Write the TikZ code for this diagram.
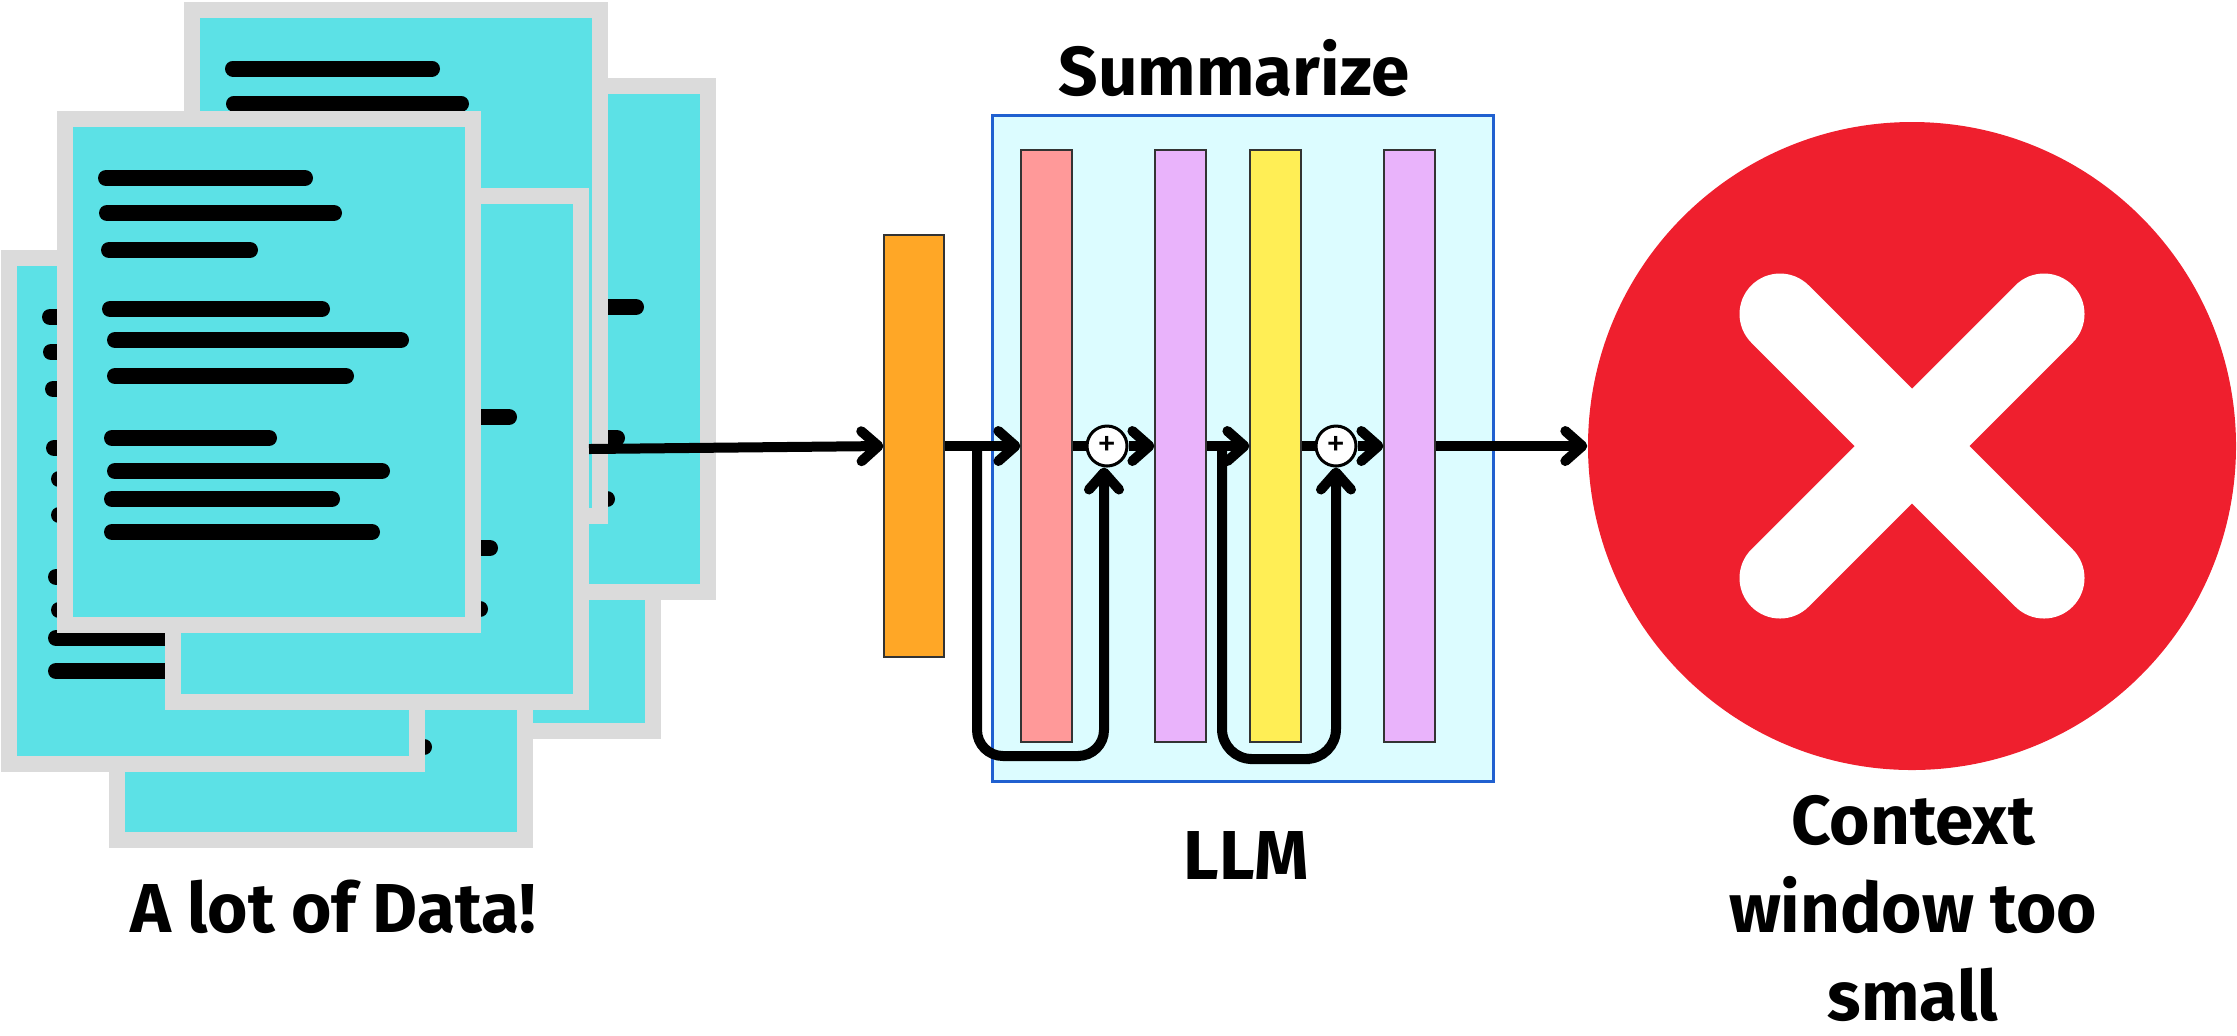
\documentclass[tikz,border=0pt]{standalone}
\usepackage{fontspec}
\setmainfont{Fira Sans}
\usetikzlibrary{arrows.meta}
\definecolor{pagecyan}{HTML}{5CE1E6}
\definecolor{pagegray}{HTML}{DBDBDB}
\definecolor{embcol}{HTML}{FFA726}
\definecolor{normcol}{HTML}{FF9999}
\definecolor{attcol}{HTML}{E9B3FB}
\definecolor{ffcol}{HTML}{FFEE55}
\definecolor{panelcol}{HTML}{DCFCFF}
\definecolor{panelline}{HTML}{2060D0}
\definecolor{stopcol}{HTML}{EF1F2E}
\tikzstyle{page}=[rectangle,draw=pagegray,fill=pagecyan,line width=0.16cm,inner sep=0,minimum width=4.08cm,minimum height=5.06cm]
\tikzstyle{textbar}=[line width=0.16cm,line cap=round]
\tikzstyle{box}=[rectangle,draw=black!80,line width=0.012cm,inner sep=0,minimum width=0.51cm,minimum height=5.92cm]
\tikzstyle{wire}=[line width=0.1cm,-{Straight Barb[round,length=0.17cm,width=0.3cm]}]
\tikzstyle{plainwire}=[line width=0.1cm]
\tikzstyle{add}=[circle,draw,fill=white,line width=0.03cm,inner sep=0,minimum size=0.4cm]
\tikzstyle{lbl}=[font=\bfseries\fontsize{19.7}{25}\selectfont,inner sep=0,align=center]

\begin{document}
\begin{tikzpicture}
\useasboundingbox (0,0) rectangle (22.37,-10.35);

% stack of pages, back to front
\foreach \n/\x/\y in {pageG/4.49/-4.78,pageB/5.04/-3.39,pageA/3.96/-2.625,pageF/3.21/-5.87,pageE/2.13/-5.11,pageD/3.77/-4.49,pageC/2.69/-3.72} {
  \node[page] (\n) at (\x,\y) {};
  \foreach \a/\b/\h in {-1.63/0.36/1.94,-1.62/0.65/1.59,-1.60/-0.19/1.22,-1.59/0.53/0.63,-1.54/1.32/0.32,-1.54/0.77/-0.04,-1.57/0.00/-0.66,-1.54/1.13/-0.99,-1.57/0.63/-1.27,-1.57/1.03/-1.60}
    \draw[textbar] ([shift={(\a,\h)}] \n.center) -- ([shift={(\b,\h)}] \n.center);
}
\node[lbl,anchor=base] (datalbl) at (3.33,-9.32) {A lot of Data!};

% model
\node[box,draw=panelline,fill=panelcol,line width=0.03cm,minimum width=5.01cm,minimum height=6.66cm] (llm) at (12.425,-4.48) {};
\node[lbl,anchor=base] (sumlbl) at (12.34,-0.95) {Summarize};
\node[lbl,anchor=base] (llmlbl) at (12.46,-8.79) {LLM};
\node[box,fill=embcol,minimum width=0.6cm,minimum height=4.22cm] (emb) at (9.14,-4.46) {};
\node[box,fill=normcol] (norm) at (10.465,-4.46) {};
\node[box,fill=attcol] (att1) at (11.805,-4.46) {};
\node[box,fill=ffcol] (ff) at (12.755,-4.46) {};
\node[box,fill=attcol] (att2) at (14.095,-4.46) {};

% result
\node[circle,fill=stopcol,inner sep=0,minimum size=6.48cm] (stop) at (19.12,-4.46) {};
\draw[white,line width=0.81cm,line cap=round] ([shift={(-1.32,1.32)}] stop.center) -- ([shift={(1.32,-1.32)}] stop.center);
\draw[white,line width=0.81cm,line cap=round] ([shift={(-1.32,-1.32)}] stop.center) -- ([shift={(1.32,1.32)}] stop.center);
\node[lbl,anchor=north] (ctxlbl) at (19.13,-7.95) {Context\\window too\\small};

\node[add] (add1) at (11.07,-4.46) {\normalfont\fontsize{11}{11}\selectfont +};
\node[add] (add2) at (13.36,-4.46) {\normalfont\fontsize{11}{11}\selectfont +};
\coordinate (tap1) at (9.77,-4.46);
\coordinate (low1) at (10.4,-7.56);
\coordinate (tap2) at (12.22,-4.46);
\coordinate (low2) at (12.8,-7.59);

\draw[wire] (pageD.east) -- (emb.west);
\draw[wire] (emb.east) -- (norm.west);
\draw[plainwire] (norm.east) -- (add1.west);
\draw[wire] (add1.east) -- (att1.west);
\draw[wire] (att1.east) -- (ff.west);
\draw[plainwire] (ff.east) -- (add2.west);
\draw[wire] (add2.east) -- (att2.west);
\draw[wire] (att2.east) -- (stop.west);
\draw[wire,rounded corners=0.26cm] (tap1) |- (low1) -| ([xshift=-0.03cm] add1.south);
\draw[wire,rounded corners=0.3cm] (tap2) |- (low2) -| (add2.south);
\end{tikzpicture}
\end{document}
